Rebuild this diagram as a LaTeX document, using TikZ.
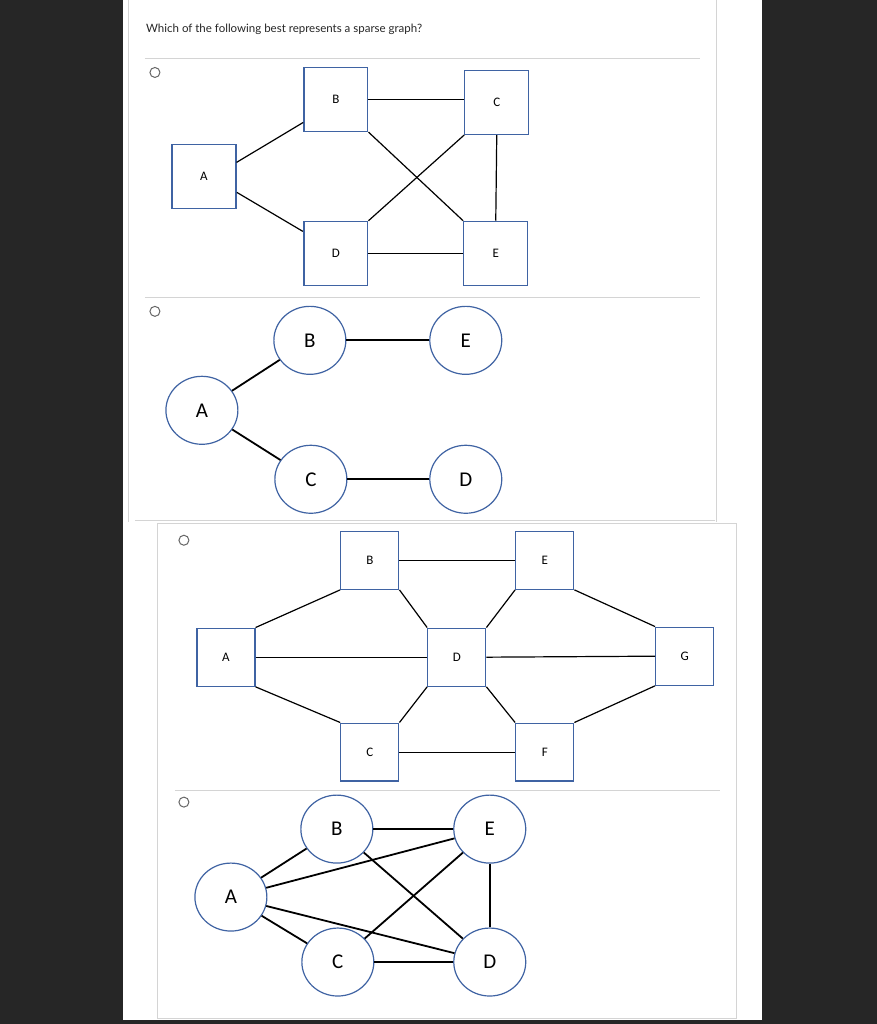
\documentclass[tikz,border=0pt]{standalone}
\usepackage{fontspec}
\setmainfont{Carlito}
\newfontfamily\latofont{Lato}
\definecolor{bx}{HTML}{3F63A3}
\definecolor{dk}{HTML}{262626}
\definecolor{ln}{HTML}{D4D4D4}
\begin{document}
\begin{tikzpicture}[x=1pt,y=-1pt,
 sq/.style={draw=bx,line width=1.3pt,fill=white,minimum width=#1pt,minimum height=#1pt,inner sep=0pt,font=\fontsize{13}{13}\selectfont},
 cir/.style={draw=bx,line width=1.2pt,fill=white,ellipse,minimum width=72pt,minimum height=68pt,inner sep=0pt,font=\fontsize{21}{21}\selectfont},
 ed/.style={draw=black,line width=1.2pt},
 edt/.style={draw=black,line width=1.8pt},
 radio/.style={draw=gray!80!black,line width=1pt}]
\usetikzlibrary{shapes.geometric}
\fill[dk] (0,0) rectangle (877,1024);
\fill[white] (123,0) rectangle (762,1020);
\draw[ln,line width=1pt] (129,0) -- (129,522);
\draw[ln,line width=1pt] (717,0) -- (717,522);
\draw[ln,line width=1pt] (158,523) rectangle (737,1018);
\draw[ln,line width=1pt] (145,58) -- (700,58);
\draw[ln,line width=1pt] (145,297) -- (700,297);
\draw[ln,line width=1pt] (135,520) -- (715,520);
\draw[ln,line width=1pt] (175,790) -- (720,790);
\node[anchor=west,inner sep=0pt,font=\latofont\fontsize{11.5}{12}\selectfont,text=black!85] (q) at (146,29) {Which of the following best represents a sparse graph?};
\foreach \n/\x/\y in {r1/155/72,r2/155/311,r3/184/540,r4/184/802}
 \draw[radio] (\x,\y) circle (5);
% graph 1
\node[sq=64] (A1) at (204,176) {A};
\node[sq=64] (B1) at (336,99) {B};
\node[sq=64] (C1) at (497,102) {C};
\node[sq=64] (D1) at (336,253) {D};
\node[sq=64] (E1) at (496,253) {E};
\draw[ed] (A1.east) ++(0,-14) -- (B1.west|-0,122);
\draw[ed] (237,192) -- (303,231);
\draw[ed] (B1.east|-0,99) -- (C1.west|-0,99);
\draw[ed] (B1.south east) -- (E1.north west);
\draw[ed] (C1.south west) -- (D1.north east);
\draw[ed] (C1.south) -- (E1.north);
\draw[ed] (D1.east) -- (E1.west);
% graph 2
\node[cir] (A2) at (202,410) {A};
\node[cir] (B2) at (310,340) {B};
\node[cir] (E2) at (466,340) {E};
\node[cir] (C2) at (311,479) {C};
\node[cir] (D2) at (466,479) {D};
\draw[edt] (A2) -- (B2);
\draw[edt] (A2) -- (C2);
\draw[edt] (B2) -- (E2);
\draw[edt] (C2) -- (D2);
% graph 3
\node[sq=58] (B3) at (370,560) {B};
\node[sq=58] (E3) at (545,560) {E};
\node[sq=58] (A3) at (226,657) {A};
\node[sq=58] (D3) at (457,657) {D};
\node[sq=58] (G3) at (685,656) {G};
\node[sq=58] (C3) at (370,752) {C};
\node[sq=58] (F3) at (545,752) {F};
\draw[ed] (A3.north east) -- (B3.south west);
\draw[ed] (A3.east) -- (D3.west);
\draw[ed] (A3.south east) -- (C3.north west);
\draw[ed] (B3.east) -- (E3.west);
\draw[ed] (B3.south east) -- (D3.north west);
\draw[ed] (E3.south west) -- (D3.north east);
\draw[ed] (E3.south east) -- (G3.north west);
\draw[ed] (D3.east) -- (G3.west);
\draw[ed] (D3.south west) -- (C3.north east);
\draw[ed] (D3.south east) -- (F3.north west);
\draw[ed] (C3.east) -- (F3.west);
\draw[ed] (F3.north east) -- (G3.south west);
% graph 4
\node[cir] (A4) at (231,897) {A};
\node[cir] (B4) at (337,829) {B};
\node[cir] (E4) at (490,829) {E};
\node[cir] (C4) at (338,962) {C};
\node[cir] (D4) at (490,962) {D};
\draw[edt] (A4) -- (B4);
\draw[edt] (A4) -- (E4);
\draw[edt] (A4) -- (D4);
\draw[edt] (A4) -- (C4);
\draw[edt] (B4) -- (E4);
\draw[edt] (B4) -- (D4);
\draw[edt] (C4) -- (E4);
\draw[edt] (C4) -- (D4);
\draw[edt] (E4) -- (D4);
\end{tikzpicture}
\end{document}
